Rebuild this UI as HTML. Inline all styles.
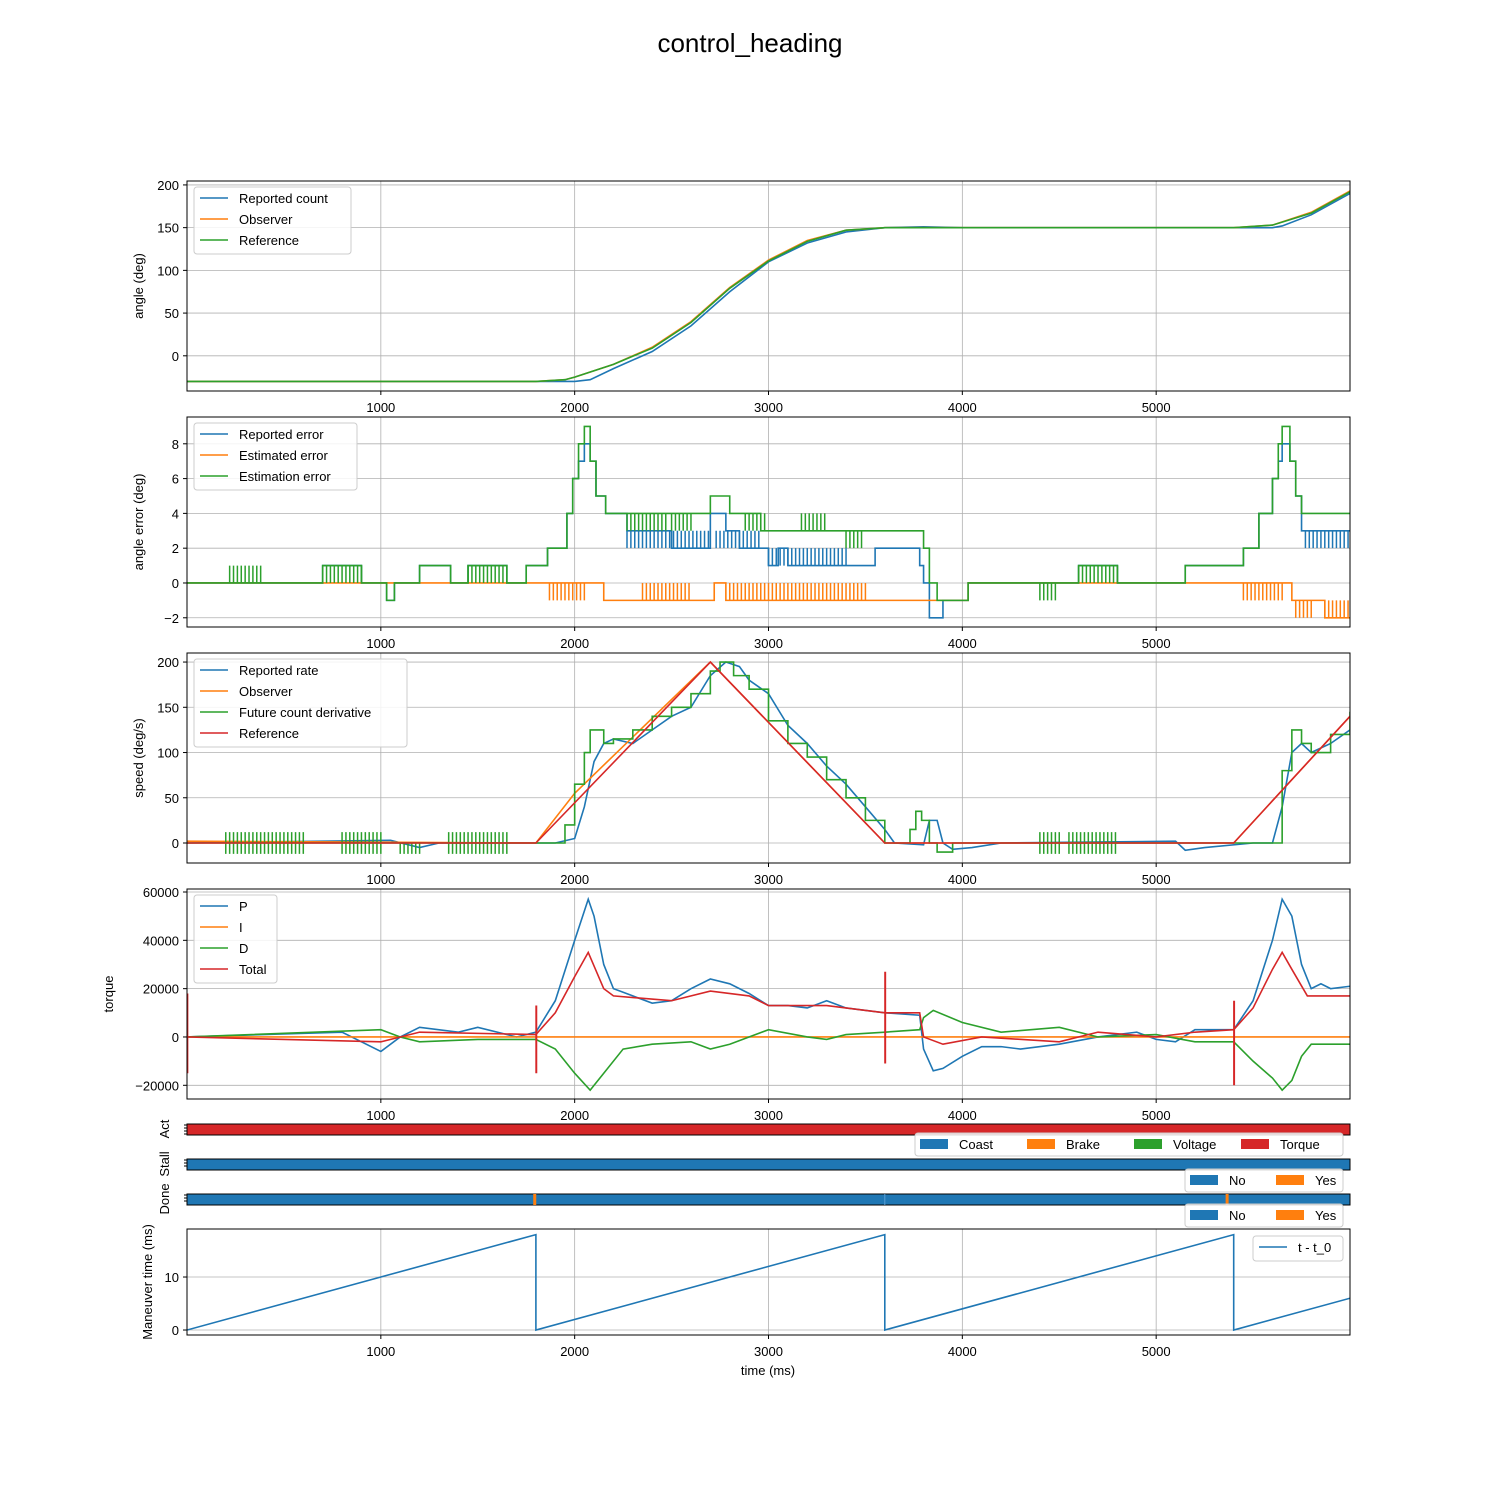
<!DOCTYPE html>
<html><head><meta charset="utf-8">
<style>
body{margin:0;background:#fff}
svg{display:block;font-family:"Liberation Sans","DejaVu Sans",sans-serif}
</style></head>
<body>
<svg id="chart" width="1500" height="1500" viewBox="0 0 1500 1500">
<text x="750" y="52" font-size="26" text-anchor="middle">control_heading</text>
</svg>
<script>
// ---------- data ----------
const xTicks=[1000,2000,3000,4000,5000];
const angleTicks=[200,150,100,50,0];
const errTicks=[8,6,4,2,0,-2];
const speedTicks=[200,150,100,50,0];
const torqueTicks=[60000,40000,20000,0,-20000];
const manTicks=[10,0];

const angleReported=[[0,-30],[1800,-30],[2000,-30],[2080,-28],[2200,-15],[2400,5],[2600,35],[2800,75],[3000,110],[3200,132],[3400,145],[3600,150],[3800,151],[4000,150],[5000,150],[5600,150],[5650,152],[5800,165],[6000,190]];
const angleObserver=[[0,-30],[1800,-30],[1950,-28],[2000,-25],[2200,-10],[2400,10],[2600,40],[2800,80],[3000,112],[3200,135],[3400,147],[3600,150],[3800,150],[5400,150],[5600,153],[5800,168],[6000,193]];
const angleReference=[[0,-30],[1800,-30],[1950,-28],[2000,-25],[2200,-10],[2400,9],[2600,39],[2800,79],[3000,111],[3200,134],[3400,147],[3600,150],[3800,150],[5400,150],[5600,153],[5800,167],[6000,192]];

const errEstimation=[[0,0],[700,1],[900,0],[1030,-1],[1070,0],[1200,1],[1360,0],[1450,1],[1650,0],[1750,1],[1860,2],[1960,4],[1990,6],[2020,8],[2050,9],[2080,7],[2110,5],[2160,4],[2700,5],[2800,4],[2960,3],[3800,2],[3830,0],[3870,-1],[4030,0],[4600,1],[4800,0],[5150,1],[5450,2],[5530,4],[5600,6],[5630,8],[5650,9],[5690,7],[5720,5],[5750,4],[6000,4]];
const errReported=[[0,0],[700,1],[900,0],[1030,-1],[1070,0],[1200,1],[1360,0],[1450,1],[1650,0],[1750,1],[1860,2],[1960,4],[1990,6],[2020,7],[2050,8],[2080,7],[2110,5],[2160,4],[2270,3],[2500,2],[2700,4],[2780,3],[2850,2],[3000,1],[3050,2],[3100,1],[3550,2],[3780,1],[3800,0],[3830,-2],[3900,-1],[4030,0],[4600,1],[4800,0],[5150,1],[5450,2],[5530,4],[5600,6],[5630,7],[5650,8],[5690,7],[5720,5],[5750,3],[6000,3]];
const errEstimated=[[0,0],[2150,-1],[2720,0],[2780,-1],[4030,0],[5700,-1],[5870,-2],[6000,-2]];
const errEstimationFlicker=[[220,380,0,1],[700,900,0,1],[1450,1650,0,1],[2270,2480,3,4],[2500,2600,3,4],[2880,2990,3,4],[3170,3300,3,4],[3400,3480,2,3],[4400,4480,-1,0],[4600,4800,0,1]];
const errReportedFlicker=[[2270,2700,2,3],[2730,2950,2,3],[3000,3400,1,2],[5770,6000,2,3]];
const errEstimatedFlicker=[[1870,2050,-1,0],[2350,2600,-1,0],[2800,3500,-1,0],[5450,5650,-1,0],[5720,5800,-2,-1],[5870,6000,-2,-1]];

const speedReference=[[0,0],[1800,0],[2700,200],[3600,0],[5400,0],[6000,140]];
const speedObserver=[[0,2],[1800,0],[2000,55],[2700,200],[3600,0],[5400,0],[6000,140]];
const speedReported=[[0,0],[1050,3],[1200,-5],[1300,0],[1900,0],[2000,5],[2050,40],[2100,90],[2150,110],[2200,115],[2300,110],[2400,125],[2500,140],[2600,150],[2700,185],[2780,200],[2850,195],[2900,180],[3000,165],[3100,130],[3200,110],[3300,85],[3400,65],[3500,40],[3600,15],[3650,0],[3800,-2],[3830,25],[3870,25],[3900,0],[3950,-7],[4050,-5],[4200,0],[5100,2],[5150,-8],[5250,-5],[5500,0],[5600,0],[5650,40],[5700,100],[5750,110],[5800,100],[5900,110],[6000,125]];
const speedFuture=[[0,0],[1850,0],[1950,20],[2000,65],[2050,100],[2080,125],[2150,110],[2200,115],[2300,125],[2400,140],[2500,150],[2600,165],[2700,190],[2750,200],[2820,185],[2900,170],[3000,135],[3100,110],[3200,95],[3300,70],[3400,50],[3500,25],[3600,0],[3730,15],[3760,35],[3790,25],[3830,0],[3870,-10],[3950,0],[5600,0],[5650,80],[5700,125],[5750,110],[5800,100],[5900,120],[6000,145]];
const speedFutureFlicker=[[200,600,-12,12],[800,1000,-12,12],[1100,1200,-12,0],[1350,1650,-12,12],[4400,4500,-12,12],[4550,4800,-12,12]];

const torqueP=[[0,0],[800,2000],[1000,-6000],[1100,0],[1200,4000],[1400,2000],[1500,4000],[1700,0],[1800,2000],[1900,15000],[2000,40000],[2070,57000],[2100,50000],[2150,30000],[2200,20000],[2300,17000],[2400,14000],[2500,15000],[2600,20000],[2700,24000],[2800,22000],[2900,18000],[3000,13000],[3100,13000],[3200,12000],[3300,15000],[3400,12000],[3600,10000],[3780,9000],[3800,-5000],[3850,-14000],[3900,-13000],[4000,-8000],[4100,-4000],[4200,-4000],[4300,-5000],[4500,-3000],[4700,0],[4900,2000],[5000,-1000],[5100,-2000],[5200,3000],[5400,3000],[5500,15000],[5600,40000],[5650,57000],[5700,50000],[5750,30000],[5800,20000],[5850,22000],[5900,20000],[6000,21000]];
const torqueI=[[0,0],[6000,0]];
const torqueD=[[0,0],[1000,3000],[1100,0],[1200,-2000],[1500,-1000],[1800,-1000],[1900,-5000],[2000,-15000],[2080,-22000],[2150,-15000],[2250,-5000],[2400,-3000],[2600,-2000],[2700,-5000],[2800,-3000],[3000,3000],[3200,0],[3300,-1000],[3400,1000],[3600,2000],[3780,3000],[3800,8000],[3850,11000],[4000,6000],[4200,2000],[4500,4000],[4700,0],[5000,1000],[5200,-2000],[5400,-2000],[5500,-10000],[5600,-17000],[5650,-22000],[5700,-18000],[5750,-8000],[5800,-3000],[6000,-3000]];
const torqueTotal=[[0,0],[1000,-2000],[1200,2000],[1800,1000],[1900,10000],[2000,25000],[2070,35000],[2150,20000],[2200,17000],[2500,15000],[2700,19000],[2900,17000],[3000,13000],[3300,13000],[3600,10000],[3780,10000],[3800,0],[3900,-3000],[4100,0],[4500,-2000],[4700,2000],[5000,0],[5200,2000],[5400,3000],[5500,12000],[5600,28000],[5650,35000],[5700,28000],[5780,17000],[6000,17000]];
const torqueSpikes=[[0,-15000,18000],[1800,-15000,13000],[3600,-11000,27000],[5400,-20000,15000]];

const doneYes=[1794,5366];
const maneuverTime=[[0,0],[1800,18],[1800,0],[3600,18],[3600,0],[5400,18],[5400,0],[6000,6]];

// ---------- rendering ----------
const svg=document.getElementById('chart');
const NS='http://www.w3.org/2000/svg';
const L=187,R=1350;
const X=t=>L+t*(R-L)/6000;
const C={blue:'#1f77b4',orange:'#ff7f0e',green:'#2ca02c',red:'#d62728'};
function el(tag,attrs,parent){const e=document.createElementNS(NS,tag);for(const k in attrs)e.setAttribute(k,attrs[k]);(parent||svg).appendChild(e);return e;}
function txt(x,y,s,size,anchor,parent){const t=el('text',{x:x,y:y,'font-size':size||13,'text-anchor':anchor||'start'},parent);t.textContent=s;return t;}

function panel(name,top,bot,v0,v1,ticks,ylabel,showX){
  const g=el('g',{});
  
  
  const Y=v=>bot-(v-v0)/(v1-v0)*(bot-top);
  const grid=el('g',{},g);
  
  
  if(showX){xTicks.forEach(t=>{el('line',{x1:X(t),x2:X(t),y1:top,y2:bot,stroke:'#b0b0b0','stroke-width':0.8},grid);});}
  ticks.forEach(v=>{el('line',{x1:L,x2:R,y1:Y(v),y2:Y(v),stroke:'#b0b0b0','stroke-width':0.8},grid);
    el('line',{x1:L-4,x2:L,y1:Y(v),y2:Y(v),stroke:'#000'},g);
    const t=txt(L-8,Y(v)+5,String(v).replace('-','\u2212'),13,'end',g);
    
    
  });
  if(showX){xTicks.forEach(t=>{el('line',{x1:X(t),x2:X(t),y1:bot,y2:bot+4,stroke:'#000'},g);
    const tl=txt(X(t),bot+21,String(t),13,'middle',g);
    
    
  });}
  const clip=el('clipPath',{id:'clip-'+name},g);
  el('rect',{x:L,y:top,width:R-L,height:bot-top},clip);
  const plot=el('g',{'clip-path':'url(#clip-'+name+')'},g);
  el('rect',{x:L,y:top,width:R-L,height:bot-top,fill:'none',stroke:'#000','stroke-width':1},g);
  if(ylabel){const cy=(top+bot)/2;const yl=txt(0,0,ylabel,13,'middle',g);
    yl.setAttribute('transform','translate('+(ylabel.length>14&&name==='maneuver-panel'?152:(name==='torque-panel'?113:143))+','+cy+') rotate(-90)');
    
    
  }
  return {g,plot,Y};
}
function series(p,pts,color,step,nm){
  let d='';pts.forEach((q,i)=>{const x=X(q[0]),y=p.Y(q[1]);
    if(i===0)d+='M'+x+','+y;else if(step)d+='H'+x+'V'+y;else d+='L'+x+','+y;});
  const e=el('path',{d:d,fill:'none',stroke:color,'stroke-width':1.6},p.plot);
  
  
  return e;
}
function flicker(p,bands,color,nm){
  bands.forEach(b=>{let d='';for(let t=b[0];t<=b[1];t+=20){d+='M'+X(t)+','+p.Y(b[2])+'V'+p.Y(b[3]);}
    const e=el('path',{d:d,stroke:color,'stroke-width':1.5,fill:'none'},p.plot);
    
    });
}
function legend(name,x,y,w,entries,horiz,patch){
  const g=el('g',{});
  
  
  const h=horiz?23:entries.length*21+4;
  el('rect',{x:x,y:y,width:w,height:h,fill:'#fff','fill-opacity':0.85,stroke:'#ccc',rx:3},g);
  entries.forEach((en,i)=>{
    let ex,ey;
    if(horiz){ex=x+5+i*(horiz);ey=y+11;}else{ex=x+6;ey=y+11+i*21;}
    if(patch)el('rect',{x:ex,y:ey-5,width:28,height:10,fill:en[1]},g);
    else el('line',{x1:ex,x2:ex+28,y1:ey,y2:ey,stroke:en[1],'stroke-width':1.6},g);
    const t=txt(ex+39,ey+5,en[0],13,'start',g);
    
    
  });
}

// panel 1
let p=panel('angle-panel',181,391,-41.2,204.6,angleTicks,'angle (deg)',true);
series(p,angleReported,C.blue,false,'reported-count-line');
series(p,angleObserver,C.orange,false,'observer-angle-line');
series(p,angleReference,C.green,false,'reference-angle-line');
legend('angle-legend',194,187,157,[['Reported count',C.blue],['Observer',C.orange],['Reference',C.green]]);

// panel 2
p=panel('error-panel',417,627,-2.53,9.54,errTicks,'angle error (deg)',true);
flicker(p,errReportedFlicker,C.blue,'reported-error-flicker');
series(p,errReported,C.blue,true,'reported-error-line');
flicker(p,errEstimatedFlicker,C.orange,'estimated-error-flicker');
series(p,errEstimated,C.orange,true,'estimated-error-line');
flicker(p,errEstimationFlicker,C.green,'estimation-error-flicker');
series(p,errEstimation,C.green,true,'estimation-error-line');
legend('error-legend',194,423,163,[['Reported error',C.blue],['Estimated error',C.orange],['Estimation error',C.green]]);

// panel 3
p=panel('speed-panel',653,863,-22.1,210,speedTicks,'speed (deg/s)',true);
series(p,speedReported,C.blue,false,'reported-rate-line');
series(p,speedObserver,C.orange,false,'observer-speed-line');
flicker(p,speedFutureFlicker,C.green,'future-derivative-flicker');
series(p,speedFuture,C.green,true,'future-count-derivative-line');
series(p,speedReference,C.red,false,'reference-speed-line');
legend('speed-legend',194,659,213,[['Reported rate',C.blue],['Observer',C.orange],['Future count derivative',C.green],['Reference',C.red]]);

// panel 4
p=panel('torque-panel',889,1099,-25670,61240,torqueTicks,'torque',true);
series(p,torqueP,C.blue,false,'p-term-line');
series(p,torqueI,C.orange,false,'i-term-line');
series(p,torqueD,C.green,false,'d-term-line');
series(p,torqueTotal,C.red,false,'total-torque-line');
torqueSpikes.forEach(s=>{let d='';for(let k=0;k<3;k++){d+='M'+X(s[0]+k*2)+','+p.Y(s[1])+'V'+p.Y(s[2]);}
  const e=el('path',{d:d,stroke:C.red,'stroke-width':1.2},p.plot);
  
  });
legend('torque-legend',194,895,83,[['P',C.blue],['I',C.orange],['D',C.green],['Total',C.red]]);

// state bars
function bar(name,label,top,color,ticksN){
  const g=el('g',{});
  
  
  el('rect',{x:L,y:top,width:R-L,height:11,fill:color,stroke:'#000','stroke-width':1},g);
  for(let i=0;i<ticksN;i++)el('line',{x1:L-3,x2:L,y1:top+1+i*3,y2:top+1+i*3,stroke:'#000'},g);
  const t=txt(0,0,label,13,'middle',g);
  t.setAttribute('transform','translate(169,'+(top+5)+') rotate(-90)');
  
  
  return g;
}
bar('act-bar','Act',1124,C.red,4);
legend('act-legend',915,1133,428,[['Coast',C.blue],['Brake',C.orange],['Voltage',C.green],['Torque',C.red]],107,true);
bar('stall-bar','Stall',1159,C.blue,3);
legend('stall-legend',1185,1169,158,[['No',C.blue],['Yes',C.orange]],86,true);
const dg=bar('done-bar','Done',1194,C.blue,3);
doneYes.forEach(t=>{const r=el('rect',{x:X(t)-1.5,y:1194,width:3,height:11,fill:C.orange},dg);
  
  });
el('line',{x1:X(3600),x2:X(3600),y1:1194,y2:1205,stroke:'#5a9fd4'},dg);
legend('done-legend',1185,1204,158,[['No',C.blue],['Yes',C.orange]],86,true);

// maneuver
p=panel('maneuver-panel',1229,1335,-0.94,19.06,manTicks,'Maneuver time (ms)',true);
series(p,maneuverTime,C.blue,false,'maneuver-time-line');
legend('maneuver-legend',1253,1236,90,[['t - t_0',C.blue]]);
const xl=txt(768,1375,'time (ms)',13,'middle');


</script>
</body></html>
